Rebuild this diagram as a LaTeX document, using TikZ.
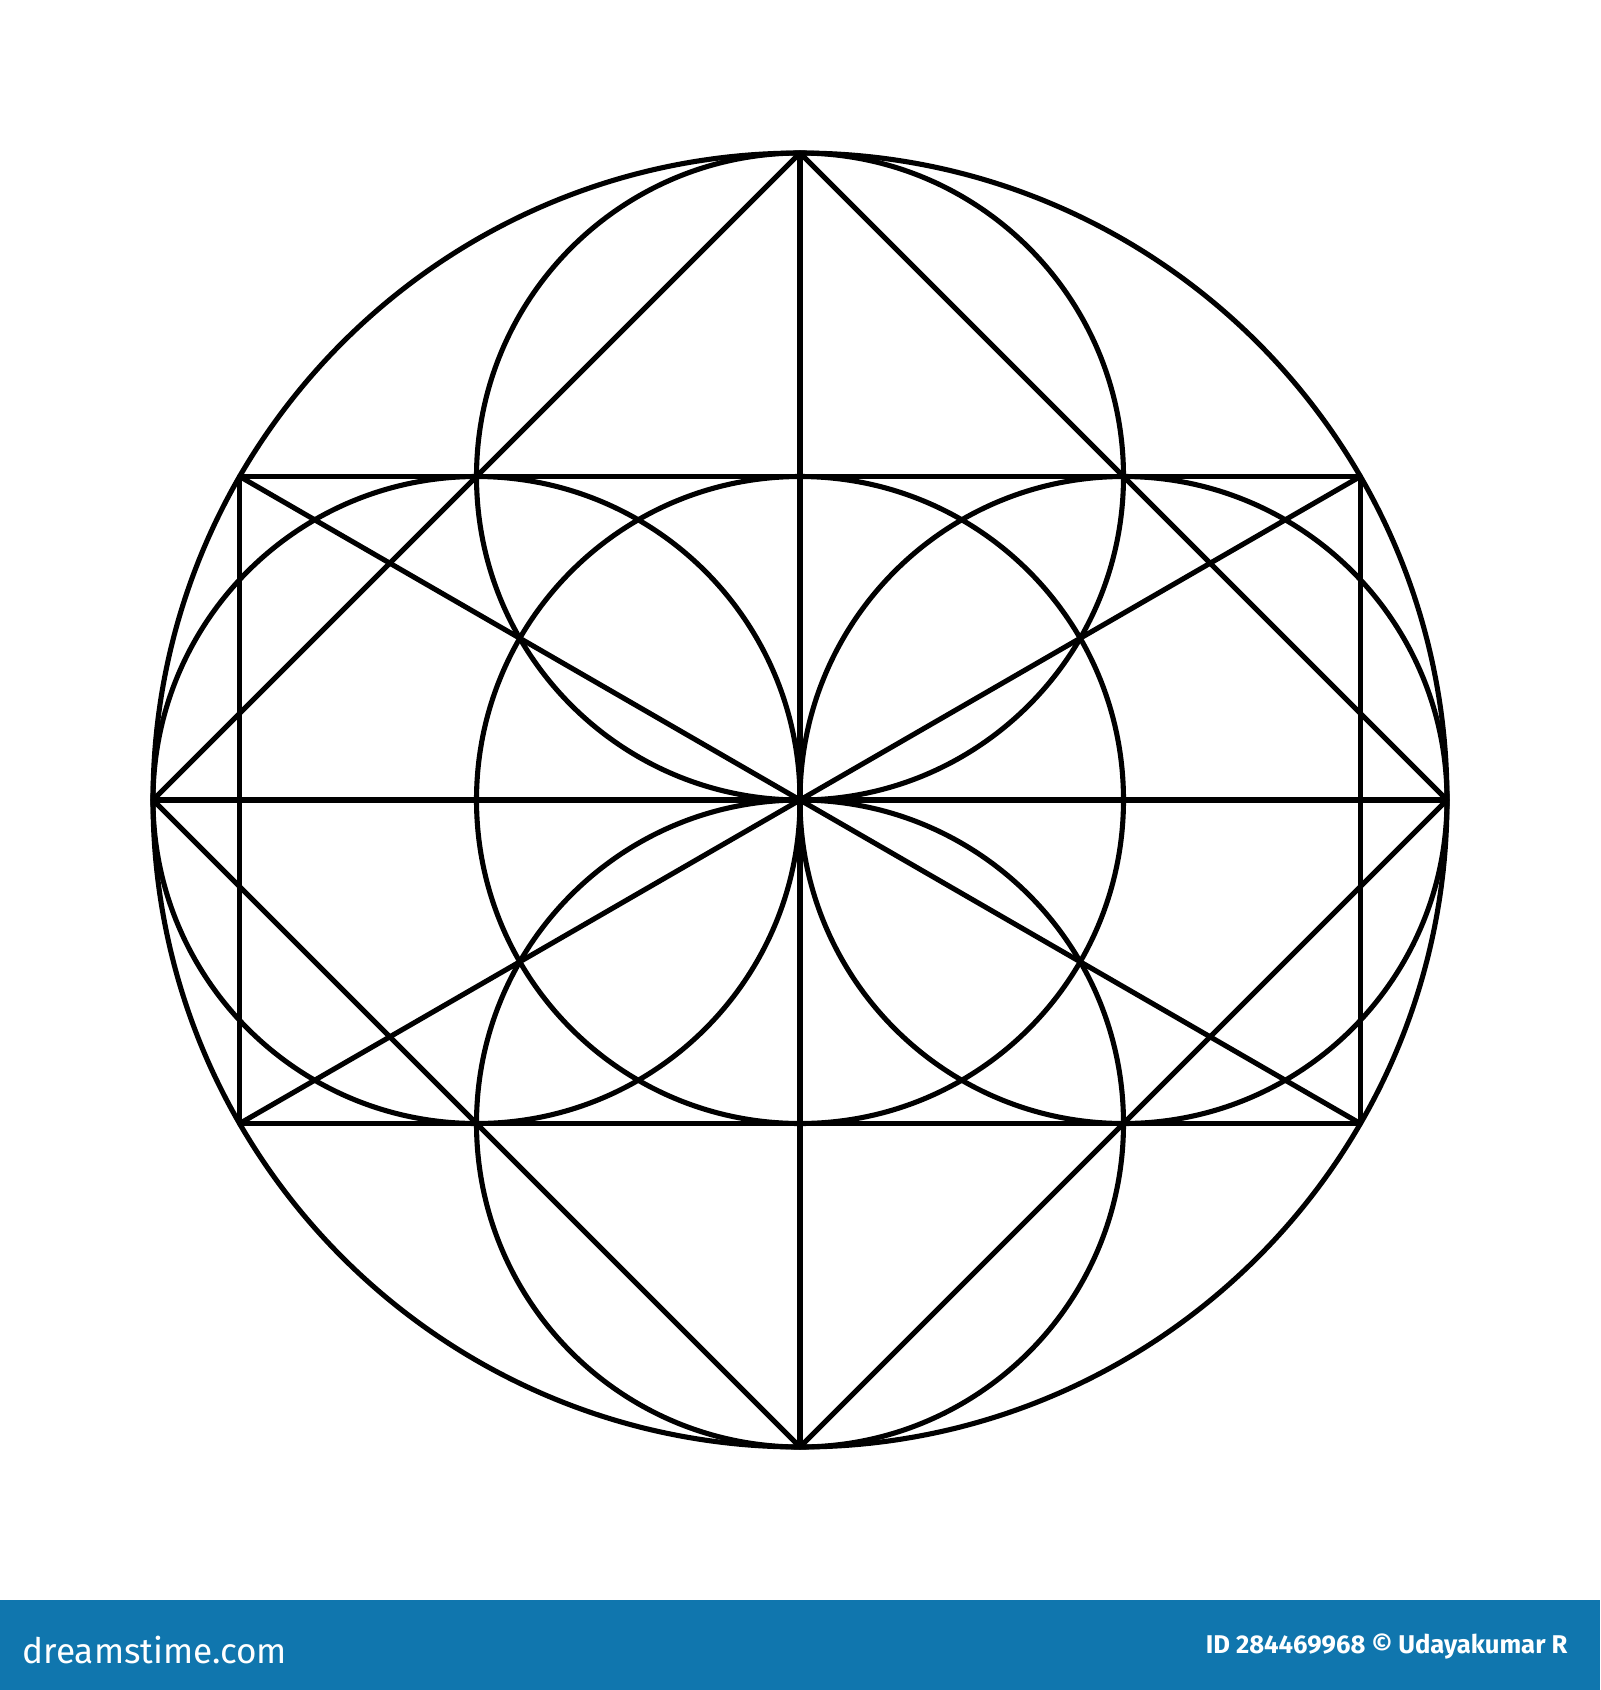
\documentclass[tikz,border=0pt]{standalone}
\usepackage{fontspec}
\setmainfont{Fira Sans}
\definecolor{barblue}{RGB}{16,118,174}
\begin{document}
\begin{tikzpicture}[x=0.1mm, y=-0.1mm, line width=1.45pt, line join=round]
            \useasboundingbox (0,0) rectangle (1600,1690);

            % Centre and points on the outer circle
            \coordinate (O) at (800,800);
            \coordinate (T) at (800,153);
            \coordinate (B) at (800,1447);
            \coordinate (L) at (153,800);
            \coordinate (R) at (1447,800);

            % Rectangle corners (at 30 degrees)
            \coordinate (TL) at (239.7,476.5);
            \coordinate (TR) at (1360.3,476.5);
            \coordinate (BR) at (1360.3,1123.5);
            \coordinate (BL) at (239.7,1123.5);

            % Outer circle
            \draw (O) circle (64.7mm);

            % Five inner circles
            \draw (O) circle (32.35mm);
            \draw (800,476.5) circle (32.35mm);
            \draw (800,1123.5) circle (32.35mm);
            \draw (476.5,800) circle (32.35mm);
            \draw (1123.5,800) circle (32.35mm);

            % Square and rectangle
            \draw (T) -- (R) -- (B) -- (L) -- cycle;
            \draw (TL) -- (TR) -- (BR) -- (BL) -- cycle;

            % Cross and diagonals
            \draw (T) -- (B);
            \draw (L) -- (R);
            \draw (TL) -- (BR);
            \draw (TR) -- (BL);

            % Bottom bar
            \fill[barblue] (0,1600) rectangle (1600,1690);
            \node[white, anchor=base west, inner sep=0pt, font=\fontsize{10pt}{12pt}\selectfont] (site) at (20,1663) {dreamstime.com};
            \node[white, anchor=base east, inner sep=0pt, font=\bfseries\fontsize{7.3pt}{9pt}\selectfont] (credit) at (1570,1653) {ID 284469968 © Udayakumar R};
        \end{tikzpicture}
\end{document}
